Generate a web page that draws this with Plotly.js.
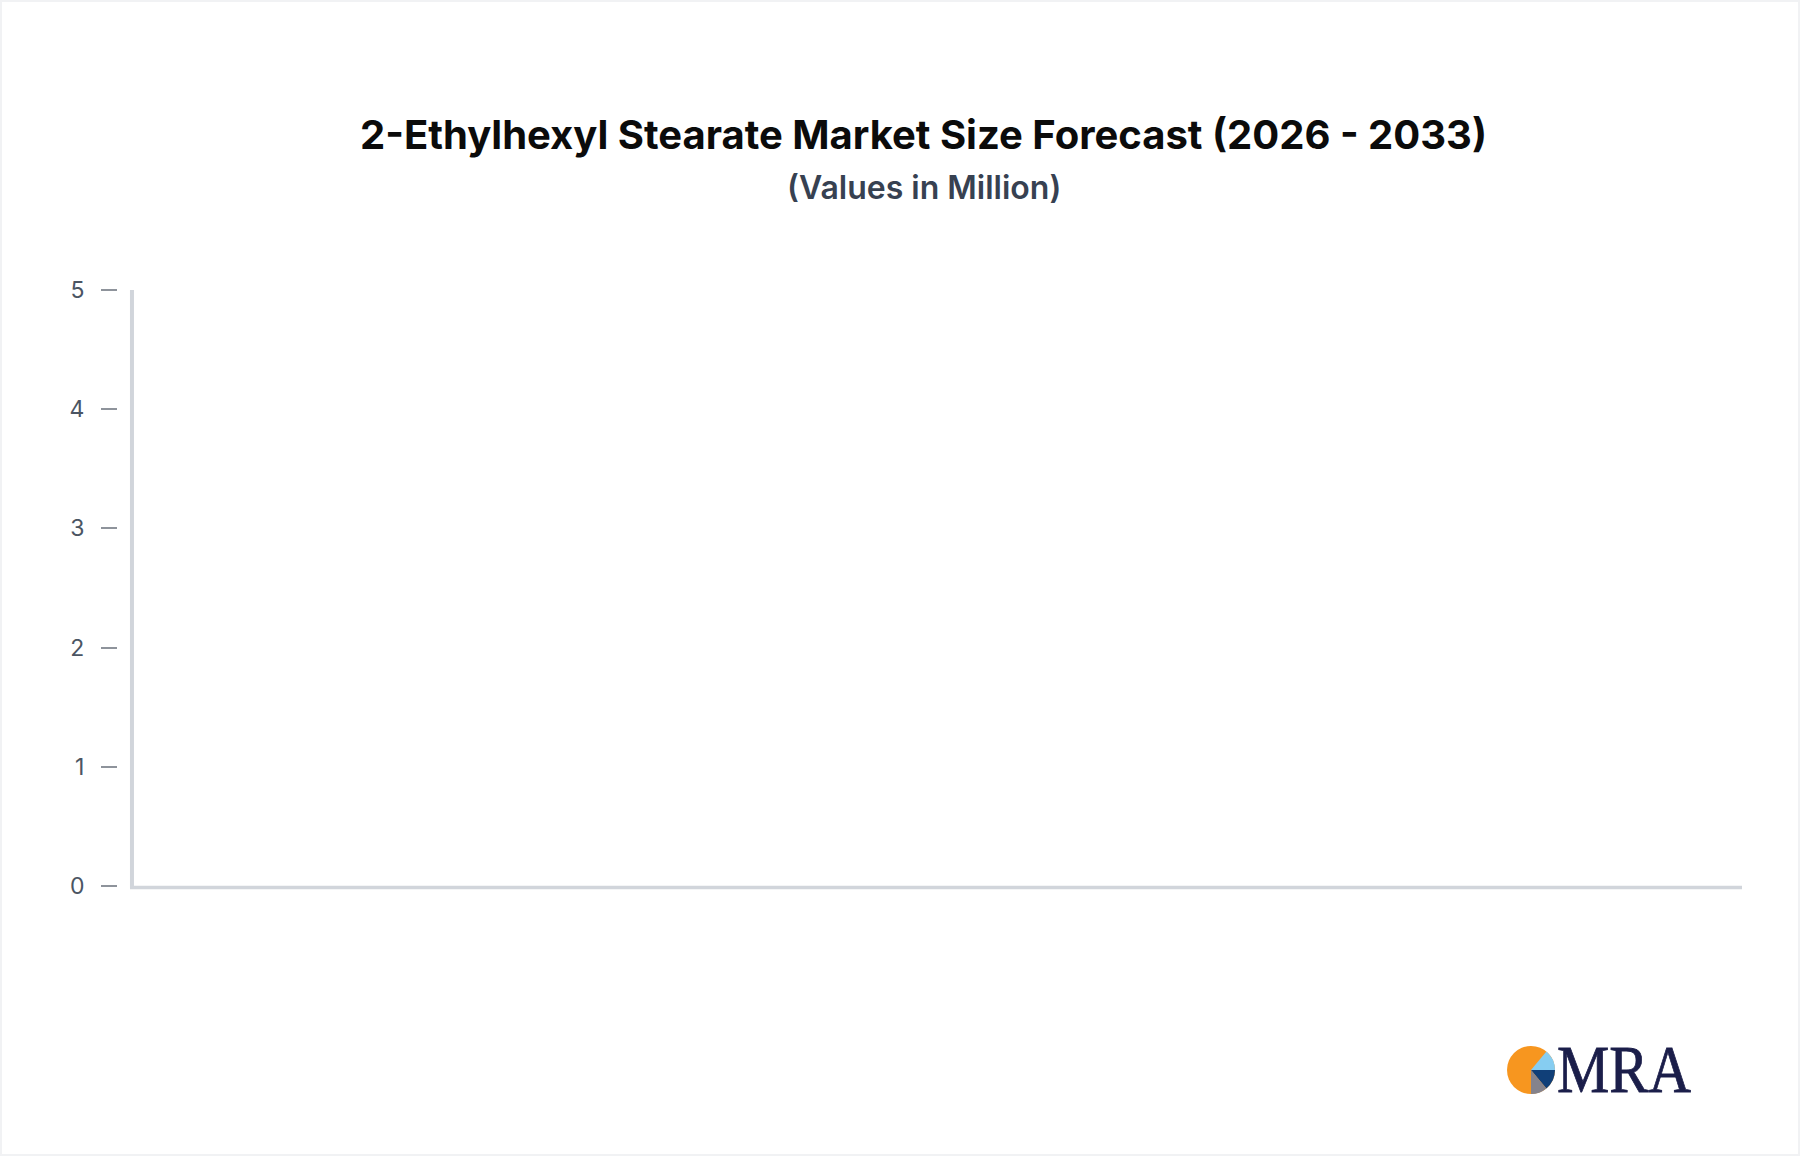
<!DOCTYPE html>
<html>
<head>
<meta charset="utf-8">
<script src="https://cdn.plot.ly/plotly-3.0.1.min.js"></script>
<style>
  html, body { margin: 0; padding: 0; background: #ffffff; }
  #wrap { position: relative; width: 1800px; height: 1156px; box-sizing: border-box; border: 2px solid #f1f2f4; overflow: hidden; }
  #chart { position: absolute; left: -2px; top: -2px; width: 1800px; height: 1156px; }
  #logo { position: absolute; left: -2px; top: -2px; width: 1800px; height: 1156px; pointer-events: none; }
</style>
</head>
<body>
<div id="wrap">
  <div id="chart"></div>
  <svg id="logo" width="1800" height="1156" xmlns="http://www.w3.org/2000/svg">
    <circle cx="1531" cy="1070" r="24" fill="#f7961f"/>
    <path d="M1531,1070 L1546.4,1051.6 A24,24 0 0 1 1555,1070 Z" fill="#86cdf1"/>
    <path d="M1531,1070 L1555,1070 A24,24 0 0 1 1546.4,1088.4 Z" fill="#103f78"/>
    <path d="M1531,1070 L1546.4,1088.4 A24,24 0 0 1 1531,1094 Z" fill="#85838c"/>
    <text x="1557" y="1092" font-family="Liberation Serif, DejaVu Serif, serif" font-size="68" fill="#1b1e4a" stroke="#1b1e4a" stroke-width="0.8" textLength="134" lengthAdjust="spacingAndGlyphs">MRA</text>
  </svg>
</div>
<script>
// Data (the reference chart shows no plotted values)
const categories = [];
const values = [];
const yTickValues = [0, 1, 2, 3, 4, 5];
const yTickLabels = ['0', '1', '2', '3', '4', '5'];
const titleText = '2-Ethylhexyl Stearate Market Size Forecast (2026 - 2033)';
const subtitleText = '(Values in Million)';

const traces = [{
  type: 'bar',
  x: categories,
  y: values,
  marker: { color: '#1f3b73' },
  hoverinfo: 'skip'
}];

const layout = {
  width: 1800,
  height: 1156,
  paper_bgcolor: '#ffffff',
  plot_bgcolor: '#ffffff',
  margin: { l: 118, r: 58, t: 290, b: 270 },
  showlegend: false,
  font: { family: 'Inter, Roboto, sans-serif' },
  xaxis: {
    showgrid: false,
    zeroline: false,
    showline: false,
    showticklabels: false,
    ticks: '',
    range: [0, 1]
  },
  yaxis: {
    range: [0, 5],
    tickvals: yTickValues,
    ticktext: yTickLabels,
    showgrid: false,
    zeroline: false,
    showline: false,
    ticks: 'outside',
    ticklen: 16,
    tickwidth: 2,
    tickcolor: '#8e939b',
    ticklabelstandoff: 12,
    tickfont: { family: 'Inter, sans-serif', size: 23, color: '#4b5563' }
  },
  shapes: [
    { type: 'line', xref: 'paper', yref: 'paper', x0: 0.0086, x1: 0.0086, y0: -0.004, y1: 1,
      line: { color: '#d1d5db', width: 4 } },
    { type: 'line', xref: 'paper', yref: 'paper', x0: 0.0074, x1: 1, y0: -0.0025, y1: -0.0025,
      line: { color: '#d1d5db', width: 3.5 } }
  ],
  annotations: [
    { text: titleText, xref: 'paper', yref: 'paper', x: 0.4963, y: 1.2617, xanchor: 'center', yanchor: 'middle',
      showarrow: false, font: { family: 'Inter, sans-serif', size: 40, color: '#0b0b0b', weight: 700 } },
    { text: subtitleText, xref: 'paper', yref: 'paper', x: 0.4963, y: 1.1728, xanchor: 'center', yanchor: 'middle',
      showarrow: false, font: { family: 'Inter, sans-serif', size: 32, color: '#374151', weight: 600 } }
  ]
};

Plotly.newPlot('chart', traces, layout, { displayModeBar: false, staticPlot: true });
</script>
</body>
</html>
